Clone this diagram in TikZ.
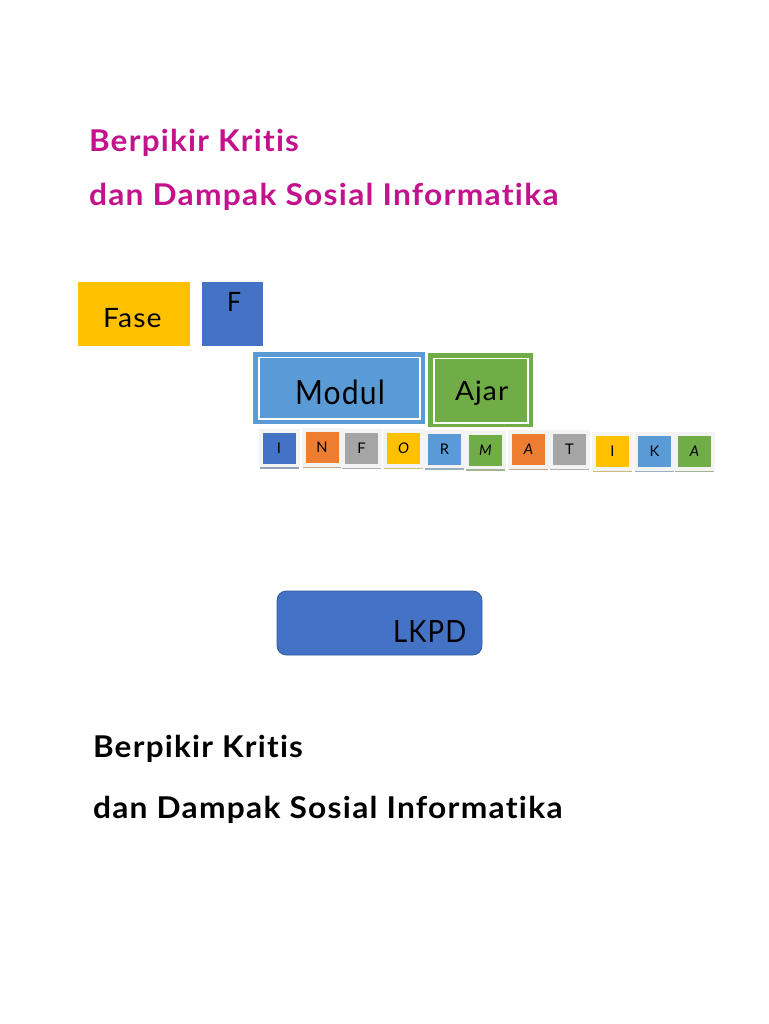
\documentclass[tikz,border=0pt]{standalone}
\usepackage{fontspec}
\usepackage{graphicx}
\setmainfont{Lato}[Ligatures=NoCommon,LetterSpace=4]
\definecolor{ablue}{HTML}{4472C4}
\definecolor{aorange}{HTML}{ED7D31}
\definecolor{agray}{HTML}{A5A5A5}
\definecolor{agold}{HTML}{FFC000}
\definecolor{asky}{HTML}{5B9BD5}
\definecolor{agreen}{HTML}{70AD47}
\definecolor{apink}{HTML}{C4128C}
\definecolor{aframe}{HTML}{F3F3F3}
\newcommand{\wfit}[2]{\resizebox{#1}{\height}{#2}}
\newcommand{\tile}[5]{%
  \fill[#4!45!gray!70!white] (#2-19.5,#3-17) rectangle (#2+19.5,#3+20.5);
  \fill[aframe] (#2-20.5,#3-19.5) rectangle (#2+20.5,#3+19);
  \node[tilebox,fill=#4] (#1) at (#2,#3) {#5};}
\tikzset{
  x=0.75pt,y=-0.75pt,
  tilebox/.style={minimum width=24.75pt,minimum height=23.25pt,inner sep=0pt,font=\fontsize{11}{12}\selectfont,text=black},
  plainbox/.style={inner sep=0pt,outer sep=0pt,anchor=north west},
  word/.style={inner sep=0pt,outer sep=0pt,anchor=base west},
}
\begin{document}
\begin{tikzpicture}
\useasboundingbox[fill=white] (0,0) rectangle (768,1024);
% titles
\node[word,text=apink,font=\fontsize{22.5}{26}\bfseries\selectfont] (t1) at (89,151) {\wfit{157.5pt}{Berpikir Kritis}};
\node[word,text=apink,font=\fontsize{22.5}{26}\bfseries\selectfont] (t2) at (89,205) {\wfit{352pt}{dan Dampak Sosial Informatika}};
% Fase, F
\node[plainbox,fill=agold,minimum width=84pt,minimum height=48pt] (fase) at (78,282) {};
\node[word,font=\fontsize{20}{24}\selectfont] (faset) at (103,327) {\wfit{44pt}{Fase}};
\node[plainbox,fill=ablue,minimum width=45.75pt,minimum height=48pt] (f) at (202,282) {};
\node[word,font=\fontsize{20}{24}\selectfont] (ft) at (227,311) {\wfit{10.5pt}{F}};
% Modul, Ajar
\node[plainbox,fill=asky,minimum width=129pt,minimum height=54pt] (modul) at (253,352) {};
\draw[white,line width=1.4pt] (259,357.5) rectangle (420,419);
\node[word,font=\fontsize{25}{30}\selectfont] (modult) at (295,404) {\wfit{67.5pt}{Modul}};
\node[plainbox,fill=agreen,minimum width=78.75pt,minimum height=55.5pt] (ajar) at (428,353) {};
\draw[white,line width=1.4pt] (434,358.5) rectangle (528,423);
\node[word,font=\fontsize{20}{24}\selectfont] (ajart) at (455,400) {\wfit{40pt}{Ajar}};
% letter tiles
\tile{l1}{279}{448}{ablue}{I}
\tile{l2}{322}{447.5}{aorange}{N}
\tile{l3}{361.5}{448.5}{agray}{F}
\tile{l4}{403.5}{448.5}{agold}{\itshape O}
\tile{l5}{444.5}{449}{asky}{R}
\tile{l6}{485.5}{450}{agreen}{\itshape M}
\tile{l7}{528.5}{449.5}{aorange}{\itshape A}
\tile{l8}{569.5}{449.5}{agray}{T}
\tile{l9}{612.5}{451.5}{agold}{I}
\tile{l10}{654.5}{451.5}{asky}{K}
\tile{l11}{694.5}{451.5}{agreen}{\itshape A}
% LKPD
\node[plainbox,fill=ablue,draw=ablue!80!black,line width=0.6pt,rounded corners=7pt,minimum width=153.75pt,minimum height=48pt] (lkpd) at (277,591) {};
\node[word,font=\fontsize{23}{28}\selectfont] (lkpdt) at (393,642) {\wfit{55pt}{LKPD}};
% bottom
\node[word,font=\fontsize{22.5}{26}\bfseries\selectfont] (b1) at (93,757) {\wfit{157.5pt}{Berpikir Kritis}};
\node[word,font=\fontsize{22.5}{26}\bfseries\selectfont] (b2) at (93,818) {\wfit{352pt}{dan Dampak Sosial Informatika}};
\end{tikzpicture}
\end{document}
